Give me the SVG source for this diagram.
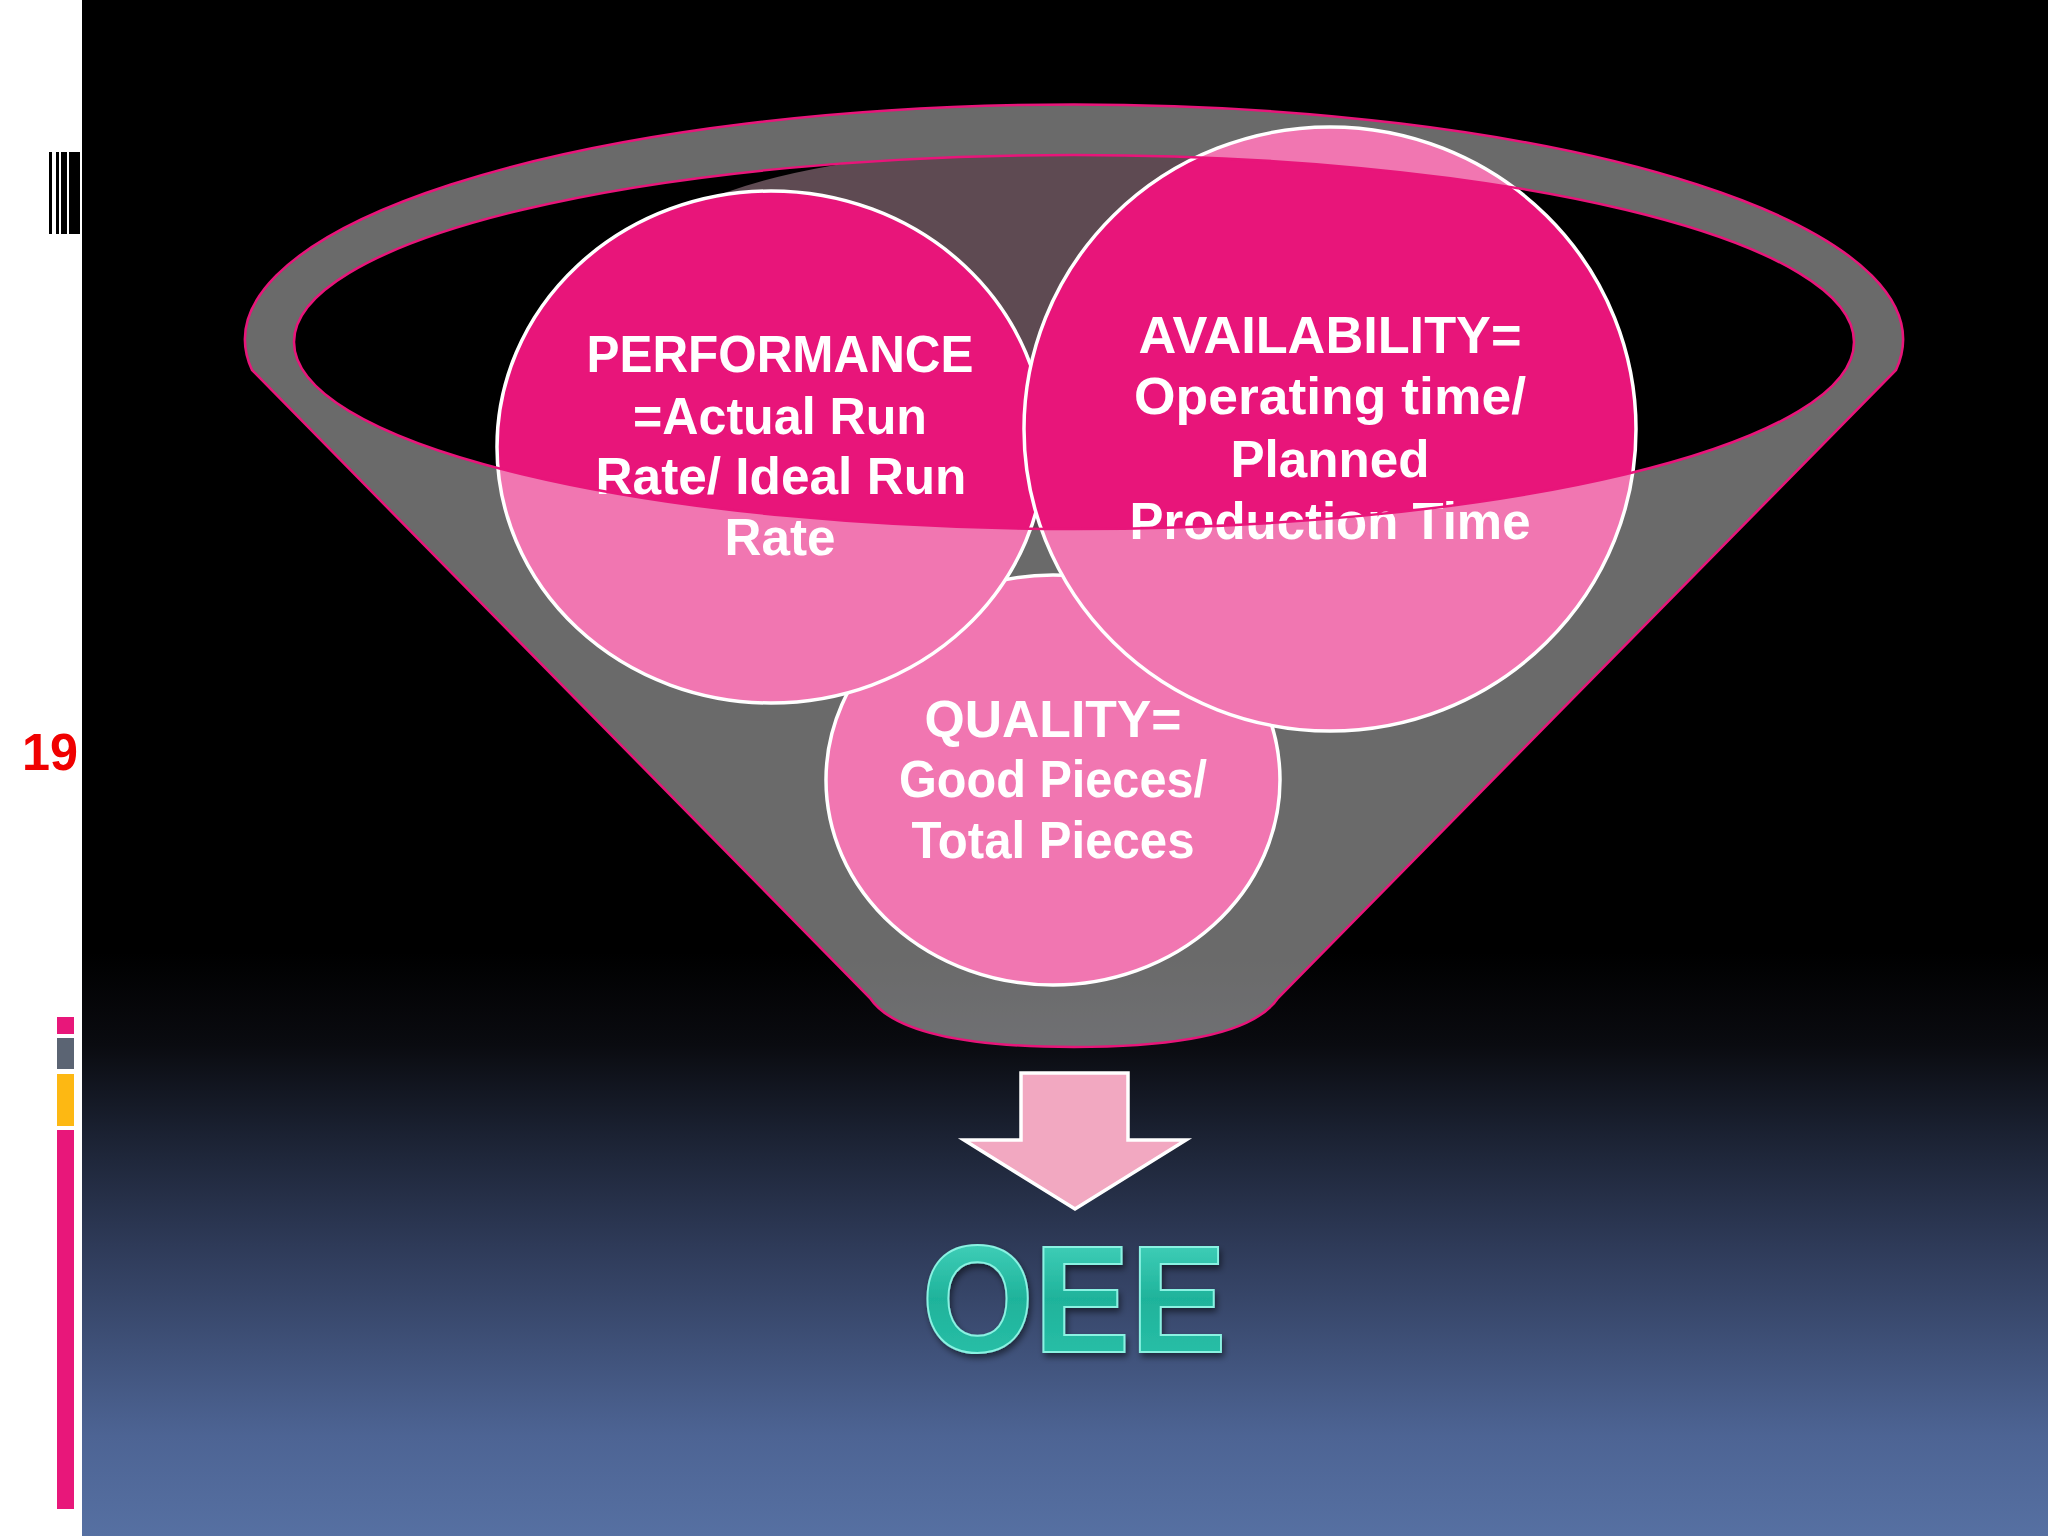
<svg xmlns="http://www.w3.org/2000/svg" width="2048" height="1536" viewBox="0 0 2048 1536">
  <defs>
    <linearGradient id="bg" x1="0" y1="0" x2="0" y2="1">
      <stop offset="0" stop-color="#000000"/>
      <stop offset="0.62" stop-color="#000000"/>
      <stop offset="0.68" stop-color="#0A0B10"/>
      <stop offset="0.74" stop-color="#1B2233"/>
      <stop offset="0.81" stop-color="#2E3A58"/>
      <stop offset="0.935" stop-color="#4D6494"/>
      <stop offset="1" stop-color="#5670A2"/>
    </linearGradient>
    <linearGradient id="teal" x1="0" y1="0" x2="0" y2="1">
      <stop offset="0" stop-color="#4FDCC6"/>
      <stop offset="0.5" stop-color="#1FB39B"/>
      <stop offset="1" stop-color="#2CC4AC"/>
    </linearGradient>
    <clipPath id="innerClip">
      <ellipse cx="1074" cy="342" rx="780" ry="187"/>
    </clipPath>
    <filter id="shadow" x="-10%" y="-10%" width="120%" height="130%">
      <feDropShadow dx="2" dy="4" stdDeviation="3" flood-color="#000000" flood-opacity="0.5"/>
    </filter>
    <style>
      .circle { fill: #E8157A; stroke: #FFFFFF; stroke-width: 3.5; }
      .label { font-family: "Liberation Sans", Arial, sans-serif; font-weight: bold; font-size: 52px; fill: #FFFFFF; text-anchor: middle; }
      .rim { fill: none; stroke: #E8157A; stroke-width: 2.5; }
    </style>
  </defs>

  <!-- background -->
  <rect x="0" y="0" width="2048" height="1536" fill="url(#bg)"/>
  <rect x="0" y="0" width="82" height="1536" fill="#FFFFFF"/>

  <!-- barcode -->
  <g id="barcode" fill="#000000">
    <rect x="49" y="152" width="3" height="82"/>
    <rect x="56" y="152" width="3" height="82"/>
    <rect x="61" y="152" width="6" height="82"/>
    <rect x="69" y="152" width="11" height="82"/>
  </g>

  <text id="page-number" x="22" y="770" font-family="Liberation Sans, Arial, sans-serif" font-weight="bold" font-size="52" fill="#F00000" textLength="56" lengthAdjust="spacingAndGlyphs">19</text>

  <!-- side color bars -->
  <g id="side-bars">
    <rect x="57" y="1017" width="17" height="17" fill="#E8177A"/>
    <rect x="57" y="1038" width="17" height="31" fill="#5B6473"/>
    <rect x="57" y="1074" width="17" height="52" fill="#FDB813"/>
    <rect x="57" y="1130" width="17" height="379" fill="#E8177A"/>
  </g>

  <!-- funnel interior (back) -->
  <g id="funnel-interior" clip-path="url(#innerClip)">
    <path d="M 690 207 Q 790 160 980 150 L 1400 150 L 1100 600 L 1040 600 Z" fill="#5E4A52"/>
  </g>

  <!-- circles -->
  <g id="quality">
    <ellipse class="circle" cx="1053" cy="780" rx="227" ry="205"/>
  </g>
  <g id="performance">
    <ellipse class="circle" cx="771" cy="447" rx="274" ry="256"/>
  </g>
  <g id="availability">
    <ellipse class="circle" cx="1330" cy="429" rx="306" ry="302"/>
  </g>

  <!-- labels -->
  <g id="performance-label" class="label">
    <text x="780" y="372" textLength="387" lengthAdjust="spacingAndGlyphs">PERFORMANCE</text>
    <text x="780" y="434" textLength="294" lengthAdjust="spacingAndGlyphs">=Actual Run</text>
    <text x="781" y="494" textLength="371" lengthAdjust="spacingAndGlyphs">Rate/ Ideal Run</text>
    <text x="780" y="555" textLength="111" lengthAdjust="spacingAndGlyphs">Rate</text>
  </g>
  <g id="availability-label" class="label">
    <text x="1330" y="353" textLength="383" lengthAdjust="spacingAndGlyphs">AVAILABILITY=</text>
    <text x="1330" y="414" textLength="392" lengthAdjust="spacingAndGlyphs">Operating time/</text>
    <text x="1330" y="477" textLength="199" lengthAdjust="spacingAndGlyphs">Planned</text>
    <text x="1330" y="539" textLength="401" lengthAdjust="spacingAndGlyphs">Production Time</text>
  </g>
  <g id="quality-label" class="label">
    <text x="1053" y="737" textLength="257" lengthAdjust="spacingAndGlyphs">QUALITY=</text>
    <text x="1053" y="797" textLength="308" lengthAdjust="spacingAndGlyphs">Good Pieces/</text>
    <text x="1053" y="858" textLength="283" lengthAdjust="spacingAndGlyphs">Total Pieces</text>
  </g>

  <!-- funnel body (translucent front) -->
  <g id="funnel">
    <path d="M 252 370 A 829 235 0 1 1 1896 370 L 1278 998 C 1250 1040 1150 1047 1074 1047 C 998 1047 898 1040 870 998 Z M 294 342 A 780 187 0 1 0 1854 342 A 780 187 0 1 0 294 342 Z" fill="#FFFFFF" fill-opacity="0.415" fill-rule="evenodd"/>
    <path class="rim" d="M 252 370 A 829 235 0 1 1 1896 370 L 1278 998 C 1250 1040 1150 1047 1074 1047 C 998 1047 898 1040 870 998 Z"/>
    <ellipse class="rim" cx="1074" cy="342" rx="780" ry="187"/>
  </g>

  <!-- connectors -->
  <g id="connectors">
    <path d="M 1021 1073 L 1128 1073 L 1128 1140 L 1186 1140 L 1075 1209 L 964 1140 L 1021 1140 Z" fill="#F2A8C1" stroke="#FFFFFF" stroke-width="3.5" stroke-linejoin="miter"/>
  </g>

  <!-- result -->
  <g id="oee">
    <text x="1074" y="1352" font-family="Liberation Sans, Arial, sans-serif" font-weight="bold" font-size="152" text-anchor="middle" fill="url(#teal)" stroke="#8AF2E2" stroke-width="2" textLength="305" lengthAdjust="spacingAndGlyphs" filter="url(#shadow)">OEE</text>
  </g>
</svg>
